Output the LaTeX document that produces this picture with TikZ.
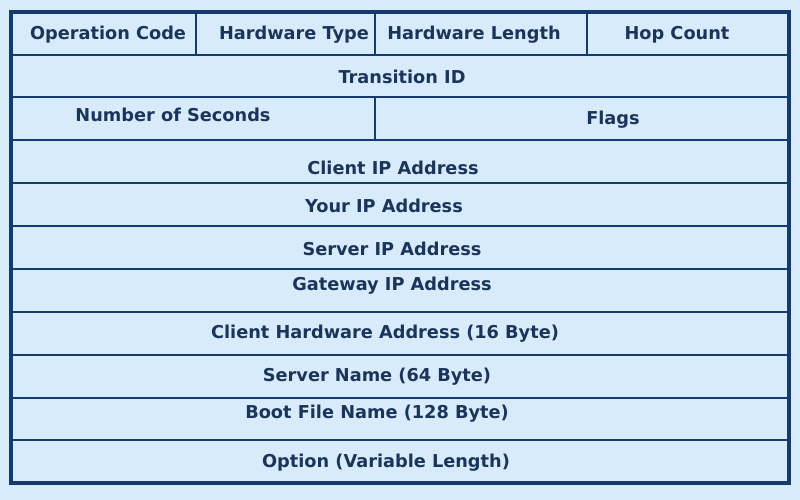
\documentclass[tikz,border=0pt]{standalone}
\usepackage{fontspec}
\setmainfont{DejaVu Sans}
\usepackage{tikz}

\definecolor{pagebg}{HTML}{D8EBFB}
\definecolor{gridline}{HTML}{153A6E}
\definecolor{fieldtext}{HTML}{1A3559}

\tikzset{
	field/.style={text=fieldtext, font=\bfseries\fontsize{17.8}{20}\selectfont, inner sep=0pt, yshift=-1.5bp},
	rowline/.style={gridline, line width=2.5bp},
}

\begin{document}
\begin{tikzpicture}[x=1bp, y=-1bp]
	
	\fill[pagebg] (0,0) rectangle (800,500);
	\useasboundingbox (0,0) rectangle (800,500);
	
	\coordinate (tl) at (11,12);
	\coordinate (br) at (789,483);
	
	% field separators
	\foreach \y in {55,97,140,183,226,269,312,355,398,440}
		\draw[rowline] (11,\y) -- (789,\y);
	\foreach \x in {196,375,587}
		\draw[rowline] (\x,12) -- (\x,55);
	\draw[rowline] (375,97) -- (375,140);
	\draw[gridline, line width=3.5bp] (tl) rectangle (br);
	
	\node[field] (opcode) at (108,33) {Operation Code};
	\node[field] (hwtype) at (294,33) {Hardware Type};
	\node[field] (hwlen) at (474,33) {Hardware Length};
	\node[field] (hops) at (677,33) {Hop Count};
	\node[field] (xid) at (402,75) {Transition ID};
	\node[field] (secs) at (173,113) {Number of Seconds};
	\node[field] (flags) at (613,118) {Flags};
	\node[field] (ciaddr) at (393,166) {Client IP Address};
	\node[field] (yiaddr) at (384,204) {Your IP Address};
	\node[field] (siaddr) at (392,247) {Server IP Address};
	\node[field] (giaddr) at (392,284) {Gateway IP Address};
	\node[field] (chaddr) at (385,332) {Client Hardware Address (16 Byte)};
	\node[field] (sname) at (377,375) {Server Name (64 Byte)};
	\node[field] (bfile) at (377,412) {Boot File Name (128 Byte)};
	\node[field] (opts) at (386,461) {Option (Variable Length)};
	
\end{tikzpicture}
\end{document}
